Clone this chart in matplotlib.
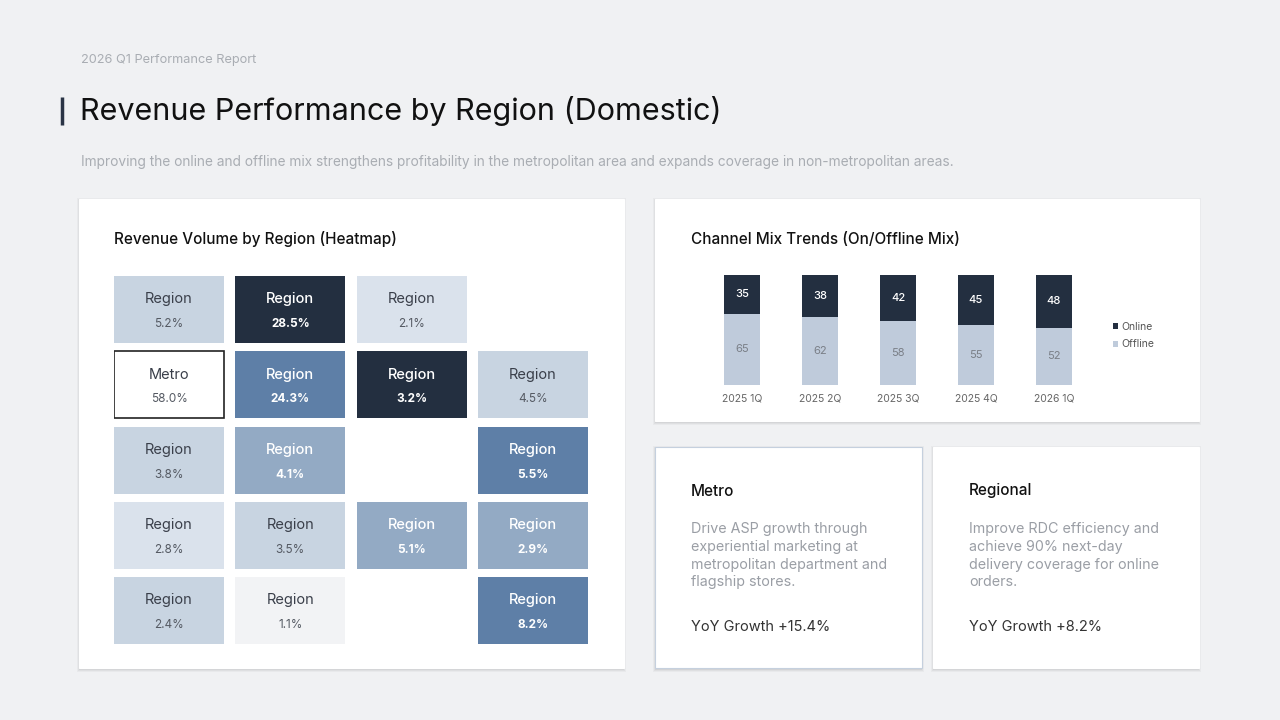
import matplotlib
matplotlib.use("Agg")
import matplotlib.pyplot as plt
from matplotlib.patches import Rectangle

plt.rcParams['font.family'] = ['Inter', 'DejaVu Sans']

# ---- data ----
heat_labels = [
    ["Region", "Region", "Region", None],
    ["Metro", "Region", "Region", "Region"],
    ["Region", "Region", None, "Region"],
    ["Region", "Region", "Region", "Region"],
    ["Region", "Region", None, "Region"],
]
heat_values = [
    [5.2, 28.5, 2.1, None],
    [58.0, 24.3, 3.2, 4.5],
    [3.8, 4.1, None, 5.5],
    [2.8, 3.5, 5.1, 2.9],
    [2.4, 1.1, None, 8.2],
]
# shade level of each cell (-1 = outlined Metro cell)
heat_levels = [
    [2, 5, 1, None],
    [-1, 4, 5, 2],
    [2, 3, None, 4],
    [1, 2, 3, 3],
    [2, 0, None, 4],
]
quarters = ["2025 1Q", "2025 2Q", "2025 3Q", "2025 4Q", "2026 1Q"]
online = [35, 38, 42, 45, 48]
offline = [65, 62, 58, 55, 52]

palette = {0: "#f2f3f5", 1: "#dae2ec", 2: "#c8d4e1", 3: "#93aac4",
           4: "#5e7fa7", 5: "#232f40", -1: "#ffffff"}
DARK = "#232f40"
OFF = "#bfcbdb"

W, H = 1280, 720
fig = plt.figure(figsize=(12.8, 7.2), dpi=100)
fig.patch.set_facecolor("#f0f1f3")


def px_axes(x0, y0, x1, y1):
    return fig.add_axes([x0 / W, 1 - y1 / H, (x1 - x0) / W, (y1 - y0) / H])


bg = fig.add_axes([0, 0, 1, 1])
bg.set_xlim(0, W)
bg.set_ylim(H, 0)
bg.axis("off")
bg.set_facecolor("none")


def card(x0, y0, x1, y1, edge=None):
    for k, a in [(3, 0.03), (2, 0.04), (1, 0.05)]:
        bg.add_patch(Rectangle((x0 - k + 1, y0 - k + 2), x1 - x0 + 2 * k - 2, y1 - y0 + 2 * k - 1,
                               facecolor="#000000", alpha=a, lw=0))
    bg.add_patch(Rectangle((x0, y0), x1 - x0, y1 - y0, facecolor="white",
                           edgecolor=edge if edge else "white", lw=0.8))


# header
bg.text(81, 60.5, "2026 Q1 Performance Report", fontsize=9.2, color="#a9adb3", va="center")
bg.plot([62, 62], [97, 125], color="#2a3445", lw=2.5, solid_capstyle="butt")
bg.text(80, 111.5, "Revenue Performance by Region (Domestic)", fontsize=22, color="#111111", va="center")
bg.text(81, 162, "Improving the online and offline mix strengthens profitability in the metropolitan area "
        "and expands coverage in non-metropolitan areas.", fontsize=9.9, color="#a9adb3", va="center")

# cards
card(79, 199, 624, 668)
card(655, 199, 1199, 421)
card(655, 447, 922, 668, edge="#c5d0de")
card(933, 447, 1199, 668)

bg.text(114, 239, "Revenue Volume by Region (Heatmap)", fontsize=11, color="#111111",
        va="center", fontweight="medium")
bg.text(691, 239, "Channel Mix Trends (On/Offline Mix)", fontsize=11, color="#111111",
        va="center", fontweight="medium")

# ---- heatmap ----
ax = px_axes(114, 276, 588 + 11.3, 644 + 8.25)
ax.set_xlim(0, 4)
ax.set_ylim(5, 0)
ax.axis("off")
cw, ch = 110 / 121.3, 67 / 75.25
for r, row in enumerate(heat_values):
    for c, v in enumerate(row):
        if v is None:
            continue
        lvl = heat_levels[r][c]
        ax.add_patch(Rectangle((c, r), cw, ch, facecolor=palette[lvl],
                               edgecolor="#222222" if lvl == -1 else "none", lw=1.2))
        dark = lvl >= 3
        tc = "white" if dark else "#3a3f4a"
        vc = "white" if dark else "#555a63"
        ax.text(c + cw / 2, r + ch * 0.35, heat_labels[r][c], ha="center", va="center",
                fontsize=10.5, color=tc, fontweight="medium" if dark else "normal")
        ax.text(c + cw / 2, r + ch * 0.72, f"{v:.1f}%", ha="center", va="center",
                fontsize=8.5, color=vc, fontweight="bold" if dark else "normal")

# ---- stacked bars ----
bx = px_axes(703, 275, 1093, 385)
bx.set_xlim(-0.5, 4.5)
bx.set_ylim(0, 100)
xs = range(len(quarters))
b_off = bx.bar(xs, offline, width=0.45, color=OFF, label="Offline")
b_on = bx.bar(xs, online, bottom=offline, width=0.45, color=DARK, label="Online")
for i in xs:
    bx.text(i, offline[i] / 2, str(offline[i]), ha="center", va="center", fontsize=8, color="#7a7f87")
    bx.text(i, offline[i] + online[i] / 2, str(online[i]), ha="center", va="center",
            fontsize=8, color="white", fontweight="medium")
bx.set_xticks(list(xs))
bx.set_xticklabels(quarters, fontsize=7.5, color="#666666")
bx.tick_params(axis="x", length=0, pad=6)
bx.set_yticks([])
for s in bx.spines.values():
    s.set_visible(False)
bx.set_facecolor("none")
bx.legend([b_on, b_off], ["Online", "Offline"], loc="center left",
          bbox_to_anchor=((1108 - 703) / 390, 0.45), frameon=False, fontsize=7.5,
          labelcolor="#555555", handlelength=0.5, handleheight=0.5, handletextpad=0.3,
          labelspacing=0.75, borderpad=0)

# ---- text cards ----
cards = [
    (691, "Metro", "Drive ASP growth through\nexperiential marketing at\nmetropolitan department and\nflagship stores.",
     "YoY Growth +15.4%"),
    (969, "Regional", "Improve RDC efficiency and\nachieve 90% next-day\ndelivery coverage for online\norders.",
     "YoY Growth +8.2%"),
]
for x, title, body, growth in cards:
    bg.text(x, 491, title, fontsize=11, color="#111111", va="center", fontweight="medium")
    bg.text(x, 522.5, body, fontsize=10.3, color="#9a9ea5", va="top", linespacing=1.33)
    bg.text(x, 627, growth, fontsize=10.5, color="#333333", va="center")

fig.savefig("out.png", dpi=100, facecolor=fig.get_facecolor())
